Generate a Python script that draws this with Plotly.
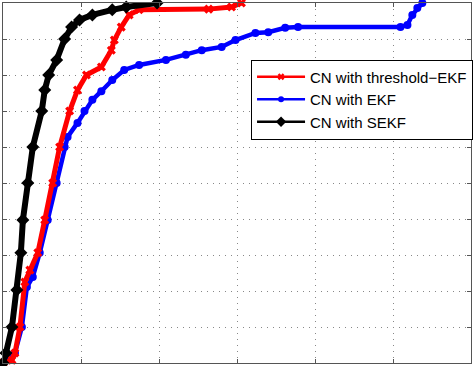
import plotly.graph_objects as go

# CDF curves (x in grid units, y = cumulative probability)
sekf_x = [0, 0.038, 0.115, 0.178, 0.229, 0.255, 0.318, 0.382, 0.497, 0.535, 0.586, 0.688, 0.79, 0.879,
          0.981, 1.146, 1.401, 1.580, 1.975]
sekf_y = [0, 0.028, 0.10, 0.203, 0.306, 0.397, 0.50, 0.60, 0.70, 0.758, 0.80, 0.842, 0.90, 0.933,
          0.953, 0.967, 0.981, 0.989, 1.0]

thr_x = [0, 0.115, 0.153, 0.217, 0.28, 0.344, 0.446, 0.535, 0.637, 0.726, 0.854, 0.955, 1.07, 1.261,
         1.389, 1.427, 1.516, 1.618, 1.745, 2.637, 2.930, 3.057]
thr_y = [0, 0.008, 0.028, 0.10, 0.225, 0.258, 0.306, 0.397, 0.50, 0.60, 0.70, 0.758, 0.80, 0.822,
         0.869, 0.897, 0.933, 0.967, 0.981, 0.983, 0.989, 1.0]

ekf_x = [0, 0.153, 0.242, 0.306, 0.382, 0.471, 0.573, 0.688, 0.79, 0.828, 0.955, 1.045, 1.146, 1.261,
         1.401, 1.554, 1.745, 2.089, 2.344, 2.548, 2.803, 2.981, 3.236, 3.401, 3.618, 3.783, 5.096,
         5.185, 5.248, 5.312, 5.376]
ekf_y = [0, 0.028, 0.10, 0.211, 0.239, 0.306, 0.397, 0.50, 0.60, 0.628, 0.667, 0.70, 0.731, 0.755,
         0.786, 0.814, 0.828, 0.842, 0.856, 0.869, 0.878, 0.897, 0.917, 0.919, 0.931, 0.933, 0.933,
         0.939, 0.967, 0.986, 1.0]

names = ["CN with threshold\u2212EKF", "CN with EKF", "CN with SEKF"]
colors = ["#ff0000", "#0000ff", "#000000"]
symbols = ["x", "circle", "diamond"]

fig = go.Figure()
series = [(thr_x, thr_y), (ekf_x, ekf_y), (sekf_x, sekf_y)]
widths = [5, 4.5, 6]
msizes = [8, 8, 10]
# draw order: blue, red, black on top
for i in [1, 0, 2]:
    x, y = series[i]
    fig.add_trace(go.Scatter(x=x, y=y, mode="lines+markers", showlegend=False,
                             line=dict(color=colors[i], width=widths[i]),
                             marker=dict(symbol=symbols[i], size=msizes[i], color=colors[i],
                                         line=dict(width=0, color=colors[i])),
                             cliponaxis=False))
# legend entries
for i in range(3):
    fig.add_trace(go.Scatter(x=[None], y=[None], mode="lines+markers", name=names[i],
                             line=dict(color=colors[i], width=2.5),
                             marker=dict(symbol=symbols[i], size=[6, 6, 8][i], color=colors[i])))

axis_common = dict(showline=True, linecolor="#555", linewidth=1.2, mirror="ticks",
                   ticks="inside", ticklen=4, tickcolor="#555",
                   showgrid=True, gridcolor="#888", griddash="1px,5px", gridwidth=1,
                   showticklabels=False, zeroline=False, fixedrange=True)
fig.update_xaxes(range=[0, 6], dtick=1, tick0=0, **axis_common)
fig.update_yaxes(range=[0, 1], dtick=0.1, tick0=0, **axis_common)

fig.update_layout(width=474, height=366, margin=dict(l=3, r=1, t=3, b=3),
                  plot_bgcolor="white", paper_bgcolor="white",
                  font=dict(family="Liberation Sans, Arial, sans-serif", size=15, color="black"),
                  legend=dict(x=0.53, y=0.843, xanchor="left", yanchor="top",
                              bordercolor="black", borderwidth=1, bgcolor="white",
                              itemwidth=48, tracegroupgap=0,
                              font=dict(size=15)))
fig.write_html("out.html", config={"displayModeBar": False},
               post_script="document.body.style.margin='0';")
